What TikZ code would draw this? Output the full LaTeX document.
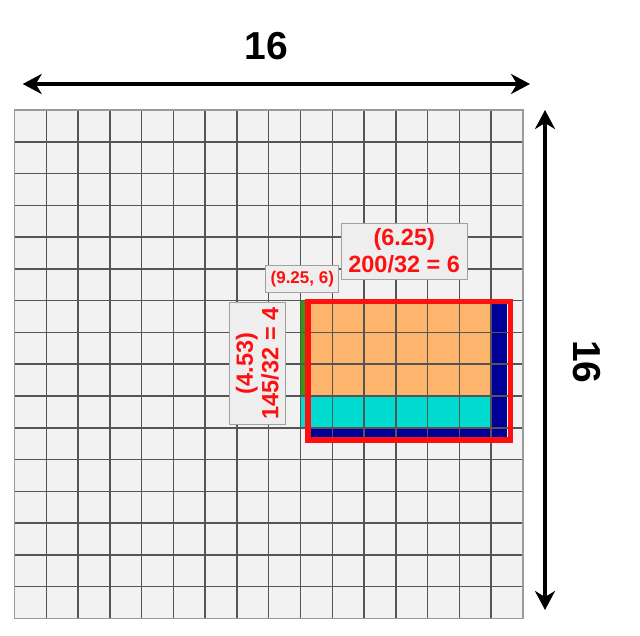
\documentclass[tikz,border=0pt]{standalone}
\usepackage{fontspec}
\setmainfont{Liberation Sans}
\usetikzlibrary{arrows.meta}
\definecolor{cellbg}{HTML}{F2F2F2}
\definecolor{gridc}{HTML}{555555}
\definecolor{gridout}{HTML}{9A9A9A}
\definecolor{orangec}{HTML}{FDB46C}
\definecolor{cyanc}{HTML}{00DCD0}
\definecolor{bluec}{HTML}{000099}
\definecolor{greenc}{HTML}{339910}
\definecolor{redc}{HTML}{FF1010}
\definecolor{lblbg}{HTML}{EEEEEE}
\definecolor{lblbd}{HTML}{A0A0A0}
\tikzset{
  dimarrow/.style={line width=4pt, {Stealth[length=19pt,width=20pt,inset=6pt]}-{Stealth[length=19pt,width=20pt,inset=6pt]}},
  dimtext/.style={font=\bfseries\fontsize{39}{42}\selectfont, inner sep=0pt},
  lbl/.style={fill=lblbg, draw=lblbd, line width=0.8pt, inner sep=0pt, text=redc, align=center},
  redbox/.style={draw=redc, line width=5.5pt},
  gridline/.style={draw=gridc, line width=1.5pt},
}
\begin{document}
\begin{tikzpicture}[x=1pt,y=-1pt]
\useasboundingbox (0,0) rectangle (640,636);
% grid
\begin{scope}[shift={(14.5,110)}, x=31.78pt, y=-31.78pt]
  \fill[cellbg] (0,0) rectangle (16,16);
  \fill[orangec] (9.25,6) rectangle (15,9);
  \fill[cyanc] (9,9) rectangle (15,10);
  \fill[greenc] (9,6) rectangle (9.2,9);
  \fill[bluec] (15,6) rectangle (15.5,10.3);
  \fill[bluec] (9.25,10) rectangle (15.5,10.3);
  \foreach \i in {1,...,15} {
    \draw[gridline] (\i,0) -- (\i,16);
    \draw[gridline] (0,\i) -- (16,\i);
  }
  \draw[gridout, line width=1.5pt] (0,0) rectangle (16,16);
  \draw[redbox] (9.23,6.02) rectangle (15.6,10.38);
\end{scope}
% dimension arrows
\coordinate (hl) at (22.7,84);
\coordinate (hr) at (530,84);
\draw[dimarrow] (hl) -- (hr);
\node[dimtext] (htext) at (266.5,46) {16};
\coordinate (vt) at (545,110);
\coordinate (vb) at (545,610);
\draw[dimarrow] (vt) -- (vb);
\node[dimtext, rotate=-90] (vtext) at (587,362) {16};
% labels
\node[lbl, minimum width=73pt, minimum height=27.7pt, font=\bfseries\fontsize{17}{19}\selectfont] (pos) at (302.3,278.9) {(9.25, 6)};
\node[lbl, minimum width=126.3pt, minimum height=55.7pt, font=\bfseries\fontsize{23.5}{27}\selectfont] (wid) at (404.2,251.2) {(6.25)\\200/32 = 6};
\node[lbl, rotate=90, minimum width=121.6pt, minimum height=56.7pt, font=\bfseries\fontsize{23.5}{25.5}\selectfont] (hei) at (257.4,363.5) {(4.53)\\145/32 = 4};
\end{tikzpicture}
\end{document}
